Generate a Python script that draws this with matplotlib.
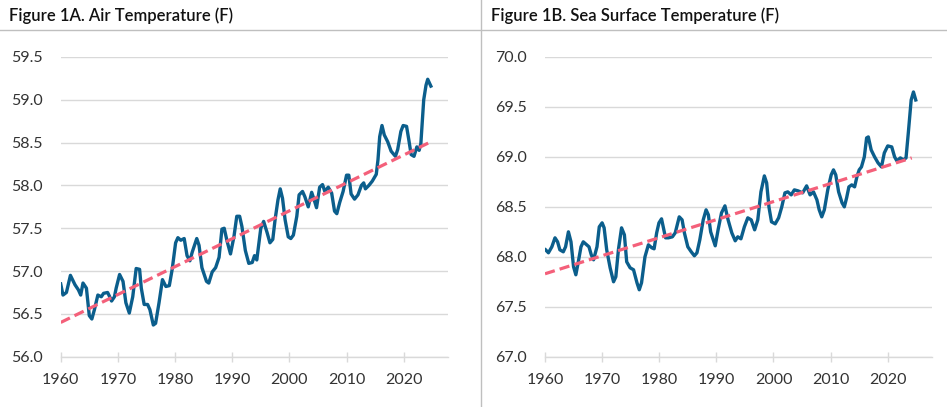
import matplotlib
matplotlib.use("Agg")
import matplotlib.pyplot as plt
from matplotlib.lines import Line2D

# --- data (12-month smoothed, deg F) ---
air_years = [1960.0, 1960.4, 1961.0, 1961.7, 1962.5, 1963.1, 1963.5, 1963.9, 1964.5, 1965.0,
             1965.45, 1965.9, 1966.5, 1967.1, 1967.5, 1968.2, 1968.5, 1968.9, 1969.4, 1969.7,
             1970.3, 1970.9, 1971.4, 1972.0, 1972.6, 1973.2, 1973.8, 1974.1, 1974.6, 1975.2,
             1975.6, 1976.2, 1976.6, 1977.2, 1977.8, 1978.4, 1979.0, 1979.5, 1980.1, 1980.5,
             1981.0, 1981.6, 1982.1, 1982.6, 1983.0, 1983.8, 1984.2, 1984.7, 1985.5, 1985.9,
             1986.5, 1987.1, 1987.7, 1988.2, 1988.6, 1989.1, 1989.7, 1990.3, 1990.8, 1991.3,
             1991.7, 1992.3, 1992.9, 1993.5, 1993.9, 1994.3, 1995.0, 1995.5, 1996.1, 1996.6,
             1997.1, 1997.5, 1998.0, 1998.4, 1998.8, 1999.25, 1999.8, 2000.25, 2000.7, 2001.3,
             2001.7, 2002.3, 2002.7, 2003.3, 2003.9, 2004.3, 2004.75, 2005.3, 2005.8, 2006.2,
             2006.8, 2007.4, 2007.9, 2008.3, 2008.8, 2009.4, 2010.0, 2010.4, 2010.8, 2011.4,
             2012.0, 2012.6, 2013.0, 2013.3, 2013.9, 2014.5, 2015.2, 2015.5, 2015.8, 2016.2,
             2016.6, 2017.2, 2017.8, 2018.55, 2018.95, 2019.5, 2019.9, 2020.5, 2020.9, 2021.3,
             2021.8, 2022.3, 2022.7, 2023.0, 2023.5, 2023.9, 2024.2, 2024.75]
air_vals = [56.85, 56.72, 56.75, 56.95, 56.84, 56.78, 56.72, 56.86, 56.80, 56.48,
            56.44, 56.55, 56.72, 56.70, 56.74, 56.75, 56.71, 56.65, 56.70, 56.80,
            56.96, 56.88, 56.63, 56.51, 56.70, 57.03, 57.02, 56.80, 56.61, 56.61,
            56.55, 56.37, 56.39, 56.63, 56.90, 56.82, 56.83, 57.02, 57.33, 57.39,
            57.36, 57.38, 57.18, 57.12, 57.22, 57.38, 57.30, 57.04, 56.88, 56.86,
            56.99, 57.04, 57.16, 57.49, 57.50, 57.35, 57.20, 57.40, 57.64, 57.64,
            57.52, 57.24, 57.09, 57.10, 57.18, 57.13, 57.50, 57.58, 57.45, 57.33,
            57.37, 57.60, 57.83, 57.96, 57.85, 57.60, 57.40, 57.38, 57.42, 57.64,
            57.89, 57.93, 57.87, 57.75, 57.92, 57.84, 57.74, 57.98, 58.01, 57.93,
            57.98, 57.91, 57.70, 57.67, 57.80, 57.93, 58.12, 58.12, 57.90, 57.84,
            57.89, 58.00, 58.03, 57.96, 58.00, 58.05, 58.13, 58.30, 58.57, 58.70,
            58.59, 58.51, 58.40, 58.34, 58.42, 58.63, 58.70, 58.69, 58.53, 58.36,
            58.34, 58.45, 58.41, 58.49, 59.00, 59.17, 59.24, 59.16]
air_trend_years = [1960.0, 2024.75]
air_trend_vals = [56.40, 58.51]

sst_years = [1960.1, 1960.6, 1961.2, 1961.75, 1962.2, 1962.6, 1963.2, 1963.6, 1964.1, 1964.55,
             1965.0, 1965.4, 1965.8, 1966.3, 1966.7, 1967.3, 1967.7, 1968.1, 1968.5, 1969.1,
             1969.5, 1970.0, 1970.35, 1970.8, 1971.4, 1972.0, 1972.4, 1972.85, 1973.4, 1973.9,
             1974.3, 1974.9, 1975.5, 1976.1, 1976.5, 1976.9, 1977.5, 1978.1, 1978.7, 1979.1,
             1979.55, 1979.95, 1980.4, 1980.7, 1981.1, 1981.6, 1982.3, 1982.8, 1983.5, 1984.0,
             1984.4, 1985.0, 1985.6, 1986.15, 1986.6, 1987.1, 1987.7, 1988.2, 1988.6, 1989.0,
             1989.8, 1990.3, 1990.9, 1991.5, 1992.05, 1992.7, 1993.3, 1993.75, 1994.3, 1994.9,
             1995.5, 1996.1, 1996.7, 1997.25, 1997.8, 1998.4, 1998.8, 1999.2, 1999.65, 2000.3,
             2000.9, 2001.45, 2002.0, 2002.5, 2003.1, 2003.65, 2004.3, 2005.1, 2005.8, 2006.4,
             2007.0, 2007.6, 2008.0, 2008.45, 2008.9, 2009.5, 2010.1, 2010.5, 2010.9, 2011.4,
             2012.0, 2012.4, 2012.8, 2013.2, 2013.7, 2014.2, 2014.6, 2015.0, 2015.4, 2015.9,
             2016.3, 2016.6, 2017.1, 2017.7, 2018.3, 2018.9, 2019.4, 2020.0, 2020.7, 2021.2,
             2021.6, 2022.2, 2022.75, 2023.2, 2023.6, 2024.1, 2024.5, 2024.9]
sst_vals = [68.07, 68.04, 68.10, 68.19, 68.15, 68.07, 68.05, 68.10, 68.25, 68.15,
            67.90, 67.82, 67.94, 68.10, 68.15, 68.12, 68.10, 68.02, 67.97, 68.10,
            68.30, 68.34, 68.29, 68.07, 67.89, 67.75, 67.80, 68.07, 68.29, 68.22,
            67.95, 67.89, 67.87, 67.74, 67.67, 67.74, 68.00, 68.12, 68.09, 68.08,
            68.24, 68.34, 68.38, 68.30, 68.19, 68.19, 68.20, 68.24, 68.40, 68.37,
            68.24, 68.10, 68.05, 68.01, 68.04, 68.17, 68.37, 68.47, 68.42, 68.25,
            68.11, 68.27, 68.44, 68.51, 68.37, 68.24, 68.16, 68.20, 68.18, 68.30,
            68.39, 68.37, 68.27, 68.37, 68.65, 68.81, 68.74, 68.50, 68.35, 68.33,
            68.39, 68.50, 68.64, 68.65, 68.62, 68.67, 68.66, 68.64, 68.71, 68.62,
            68.65, 68.57, 68.47, 68.40, 68.47, 68.67, 68.82, 68.87, 68.82, 68.65,
            68.54, 68.50, 68.59, 68.70, 68.72, 68.70, 68.80, 68.87, 68.90, 69.00,
            69.19, 69.20, 69.07, 69.00, 68.94, 68.90, 69.04, 69.11, 69.10, 69.00,
            68.96, 68.99, 68.97, 68.99, 69.24, 69.57, 69.65, 69.57]
sst_trend_years = [1960.0, 2024.2]
sst_trend_vals = [67.83, 68.99]

titles = ["Figure 1A. Air Temperature (F)", "Figure 1B. Sea Surface Temperature (F)"]
air_ticks = [56.0, 56.5, 57.0, 57.5, 58.0, 58.5, 59.0, 59.5]
sst_ticks = [67.0, 67.5, 68.0, 68.5, 69.0, 69.5, 70.0]
year_ticks = [1960, 1970, 1980, 1990, 2000, 2010, 2020]

BLUE = "#0b5e8c"
PINK = "#f4607a"
GRID = "#d9d9d9"
TEXT = "#333333"

plt.rcParams['font.family'] = ['Lato', 'DejaVu Sans']

fig = plt.figure(figsize=(9.47, 4.07), dpi=100)
W, H = 947, 407


def px_axes(x0, x1, ytop, ybot):
    return fig.add_axes([x0 / W, 1 - ybot / H, (x1 - x0) / W, (ybot - ytop) / H])


def style_panel(ax, ticks):
    ax.set_xlim(1960, 2027.8)
    ax.set_ylim(ticks[0], ticks[-1])
    ax.set_yticks(ticks)
    ax.set_yticklabels([f"{t:.1f}" for t in ticks])
    ax.set_xticks(year_ticks)
    ax.grid(axis='y', color=GRID, linewidth=1.0)
    ax.set_axisbelow(True)
    for s in ['top', 'right', 'left']:
        ax.spines[s].set_visible(False)
    ax.spines['bottom'].set_color(GRID)
    ax.spines['bottom'].set_linewidth(1.0)
    ax.tick_params(axis='y', length=0, pad=13, labelsize=11.5, labelcolor=TEXT)
    ax.tick_params(axis='x', direction='inout', length=7, width=1.0, color=GRID,
                   pad=8, labelsize=11.5, labelcolor=TEXT)


ax1 = px_axes(60.7, 448.3, 57, 356.7)
ax2 = px_axes(545, 932.3, 57, 356.7)

for ax, yrs, vals, tyrs, tvals, ticks in [
        (ax1, air_years, air_vals, air_trend_years, air_trend_vals, air_ticks),
        (ax2, sst_years, sst_vals, sst_trend_years, sst_trend_vals, sst_ticks)]:
    style_panel(ax, ticks)
    ax.plot(yrs, vals, color=BLUE, linewidth=2.4, solid_joinstyle='round', zorder=3)
    ax.plot(tyrs, tvals, color=PINK, linewidth=2.3, linestyle=(0, (3.2, 1.6)), zorder=4)

# titles and separator lines
fig.text(9 / W, 1 - 16 / H, titles[0], fontsize=12, fontweight='semibold',
         color='#111111', va='center', ha='left')
fig.text(491 / W, 1 - 16 / H, titles[1], fontsize=12, fontweight='semibold',
         color='#111111', va='center', ha='left')
fig.add_artist(Line2D([0, 480 / W], [1 - 30 / H] * 2, color='#bfbfbf', linewidth=1.0))
fig.add_artist(Line2D([482 / W, 1], [1 - 30 / H] * 2, color='#bfbfbf', linewidth=1.0))
fig.add_artist(Line2D([481 / W] * 2, [0, 1], color='#bfbfbf', linewidth=1.0))

fig.savefig("out.png", dpi=100)
